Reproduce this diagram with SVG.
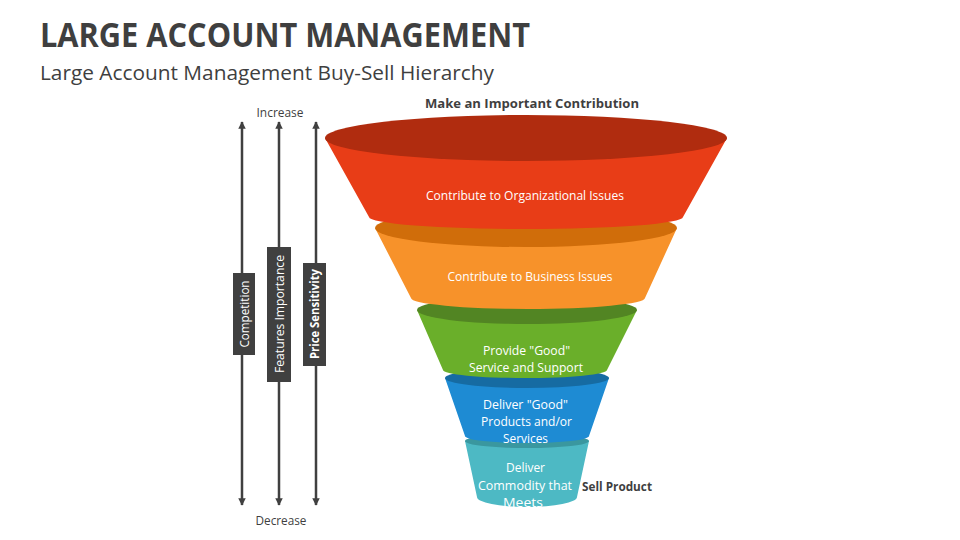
<svg xmlns="http://www.w3.org/2000/svg" width="960" height="540" viewBox="0 0 960 540">
<defs>
<style>
text{font-family:"Open Sans","Liberation Sans",sans-serif}
.title{font-weight:bold;font-size:34px;fill:#3F3F3F}
.sub{font-size:20px;fill:#3F3F3F}
.lbl{font-size:12.5px;fill:#3F3F3F;text-anchor:middle}
.bold{font-weight:bold}
.wt{font-size:13px;fill:#FFFFFF;text-anchor:middle}
.box{fill:#404040}
.axis{stroke:#404040;stroke-width:2.5;fill:none}
</style>
<marker id="ah" viewBox="0 0 10 10" refX="9" refY="5" markerWidth="3" markerHeight="3" orient="auto-start-reverse" markerUnits="strokeWidth">
<path d="M0,0 L10,5 L0,10 Z" fill="#404040"/>
</marker>
</defs>
<rect width="960" height="540" fill="#FFFFFF"/>
<text class="title" x="40" y="47" textLength="490" lengthAdjust="spacingAndGlyphs">LARGE ACCOUNT MANAGEMENT</text>
<text class="sub" x="40" y="80" textLength="454" lengthAdjust="spacingAndGlyphs">Large Account Management Buy-Sell Hierarchy</text>

<g id="connectors">
<line class="axis" x1="242" y1="505" x2="242" y2="122" marker-start="url(#ah)" marker-end="url(#ah)"/>
<line class="axis" x1="279" y1="505" x2="279" y2="122" marker-start="url(#ah)" marker-end="url(#ah)"/>
<line class="axis" x1="316" y1="505" x2="316" y2="122" marker-start="url(#ah)" marker-end="url(#ah)"/>
</g>
<text class="lbl" x="280" y="117" textLength="47" lengthAdjust="spacingAndGlyphs">Increase</text>
<text class="lbl" x="281" y="525" textLength="51" lengthAdjust="spacingAndGlyphs">Decrease</text>

<g id="competition">
<rect class="box" x="233" y="273" width="22" height="82"/>
<text class="wt" transform="translate(248.5,314) rotate(-90)" textLength="67" lengthAdjust="spacingAndGlyphs">Competition</text>
</g>
<g id="features">
<rect class="box" x="267" y="247" width="24" height="135"/>
<text class="wt" transform="translate(283.5,314) rotate(-90)" textLength="118" lengthAdjust="spacingAndGlyphs">Features Importance</text>
</g>
<g id="price">
<rect class="box" x="303" y="263" width="23" height="103"/>
<text class="wt bold" transform="translate(319,314) rotate(-90)" textLength="90" lengthAdjust="spacingAndGlyphs">Price Sensitivity</text>
</g>

<g id="level5">
<path d="M465,441 L477,497 A50,10 0 0 0 577,497 L589,441 Z" fill="#4DB9C4"/>
<ellipse cx="527" cy="441" rx="62" ry="7" fill="#3A979F"/>
<text class="wt" x="525.5" y="472" textLength="39" lengthAdjust="spacingAndGlyphs">Deliver</text>
<text class="wt" x="525" y="490" textLength="94" lengthAdjust="spacingAndGlyphs">Commodity that</text>
<text class="wt" x="523" y="507" textLength="40" lengthAdjust="spacingAndGlyphs">Meets</text>
</g>
<g id="level4">
<path d="M445,378 L465,436 A62,7 0 0 0 589,436 L609,378 Z" fill="#1E8BD3"/>
<ellipse cx="527" cy="378" rx="82" ry="10" fill="#166BA2"/>
<text class="wt" x="525.5" y="409" textLength="85" lengthAdjust="spacingAndGlyphs">Deliver "Good"</text>
<text class="wt" x="526.5" y="426" textLength="91" lengthAdjust="spacingAndGlyphs">Products and/or</text>
<text class="wt" x="525.5" y="443" textLength="45" lengthAdjust="spacingAndGlyphs">Services</text>
</g>
<g id="level3">
<path d="M417,310 L443,370 A82,8 0 0 0 607,370 L637,310 Z" fill="#6AAF2A"/>
<ellipse cx="527" cy="310" rx="110" ry="14" fill="#528523"/>
<text class="wt" x="526.5" y="355" textLength="87" lengthAdjust="spacingAndGlyphs">Provide "Good"</text>
<text class="wt" x="526" y="372" textLength="114" lengthAdjust="spacingAndGlyphs">Service and Support</text>
</g>
<g id="level2">
<path d="M375,228 L411,298 A117,11 0 0 0 645,298 L677,228 Z" fill="#F7922A"/>
<ellipse cx="526" cy="228" rx="151" ry="19" fill="#D06D0A"/>
<text class="wt" x="530" y="281" textLength="165" lengthAdjust="spacingAndGlyphs">Contribute to Business Issues</text>
</g>
<g id="level1">
<path d="M325,138 L369,217 A157,12 0 0 0 683,217 L727,138 Z" fill="#E83D17"/>
<ellipse cx="526" cy="138" rx="201" ry="23" fill="#B02C0F"/>
<text class="wt" x="525" y="200" textLength="198" lengthAdjust="spacingAndGlyphs">Contribute to Organizational Issues</text>
</g>
<text class="lbl bold" x="532" y="108" textLength="214" lengthAdjust="spacingAndGlyphs">Make an Important Contribution</text>
<text class="lbl bold" x="582" y="491" style="text-anchor:start" textLength="70" lengthAdjust="spacingAndGlyphs">Sell Product</text>
</svg>
